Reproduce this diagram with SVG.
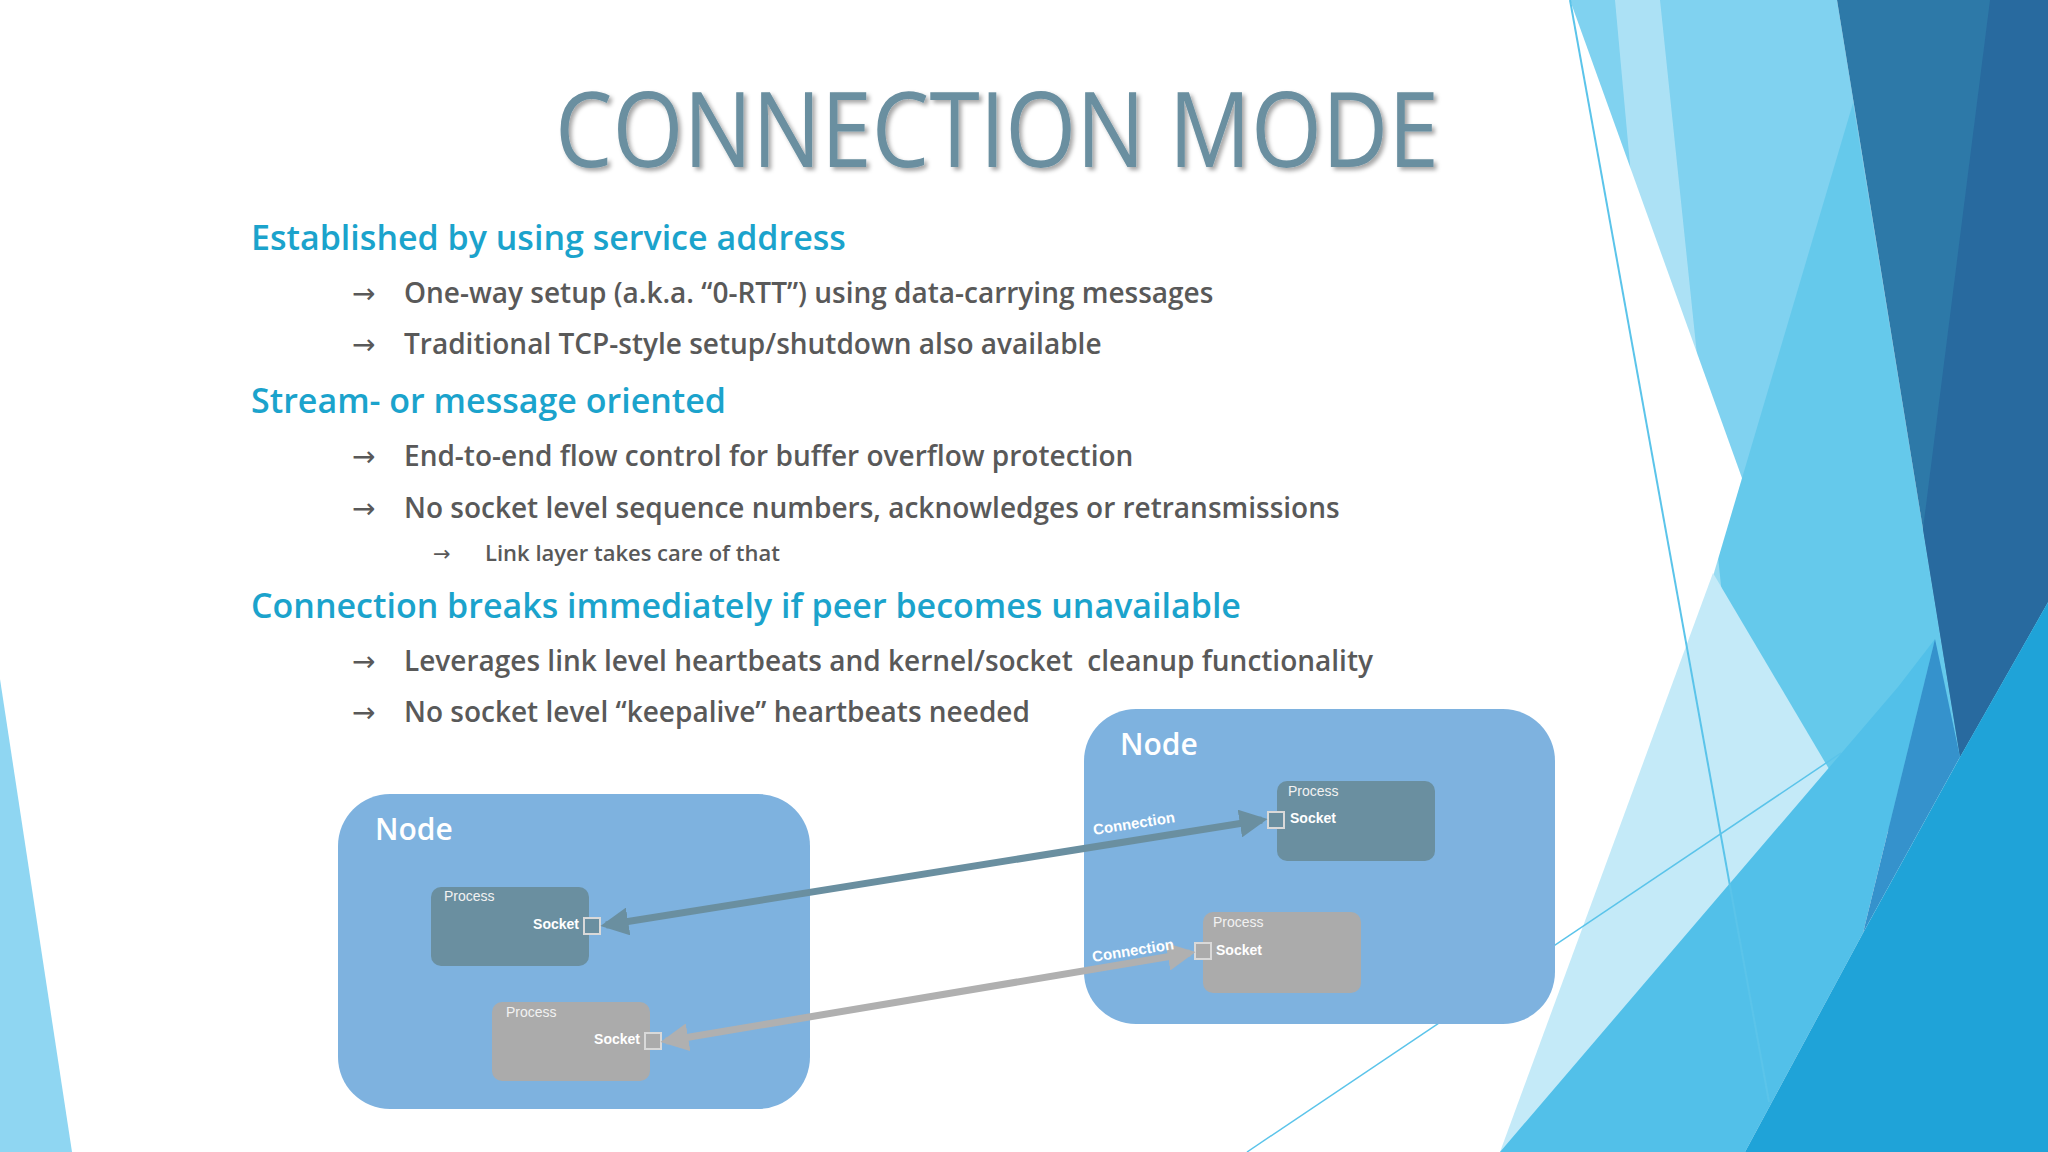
<svg xmlns="http://www.w3.org/2000/svg" width="2048" height="1152" viewBox="0 0 2048 1152">
<defs>
<style>
.h{font-family:"Open Sans","Noto Sans",sans-serif;font-size:34px;font-weight:600;fill:#1ba3cc}
.b{font-family:"Open Sans","Noto Sans",sans-serif;font-size:28px;font-weight:600;fill:#595959}
.s{font-family:"Open Sans","Noto Sans",sans-serif;font-size:22px;font-weight:600;fill:#595959}
.ar{font-family:"DejaVu Sans",sans-serif;fill:#595959}
.node{fill:#7eb2df}
.nl{font-family:"Open Sans","Noto Sans",sans-serif;font-size:30px;font-weight:600;fill:#ffffff}
.pl{font-family:"Liberation Sans",Arial,sans-serif;font-size:14px;fill:#f2f2f2}
.sl{font-family:"Liberation Sans",Arial,sans-serif;font-size:14px;font-weight:bold;fill:#ffffff}
.sq{stroke:#d9d9d9;stroke-width:2}
.cl{font-family:"Liberation Sans",Arial,sans-serif;font-size:15px;font-weight:bold;fill:#ffffff}
</style>
<marker id="mD" viewBox="0 0 10 10" refX="8" refY="5" markerWidth="4" markerHeight="4" orient="auto-start-reverse"><path d="M0,0L10,5L0,10z" fill="#6a8fa0"/></marker>
<marker id="mG" viewBox="0 0 10 10" refX="8" refY="5" markerWidth="4" markerHeight="4" orient="auto-start-reverse"><path d="M0,0L10,5L0,10z" fill="#b0b0b0"/></marker>
<filter id="sh"><feDropShadow dx="3" dy="3" stdDeviation="2" flood-color="#000" flood-opacity="0.35"/></filter>
</defs>
<rect width="2048" height="1152" fill="#ffffff"/>
<g id="decor">
<polygon points="0,679 72,1152 0,1152" fill="#8fd6f2"/>
<polygon points="1570,0 1837,0 1960,757 1874,845" fill="#80d2f0"/>
<polygon points="1853,103 1566,1073 1874,845 1960,757" fill="#65c9eb"/>
<polygon points="1615,0 1660,0 1780,1152 1720,1152" fill="#ffffff" opacity="0.35"/>
<polygon points="1713,573 1500,1152 1640,1152 1874,845" fill="#c4eaf8"/>
<polygon points="1837,0 2048,0 2048,602 1960,757" fill="#2d79a8"/>
<polygon points="1990,0 2048,0 2048,602 1960,757 1923,529" fill="#286a9f"/>
<polygon points="1500,1152 1898,687 1935,639 1863,933 1745,1152" fill="#52c0e9"/>
<polygon points="1935,639 1960,757 1863,933" fill="#3592cc"/>
<polygon points="1745,1152 1863,933 1960,757 2048,602 2048,1152" fill="#1fa3d8"/>
<line x1="1570" y1="0" x2="1769" y2="1102" stroke="#5bc4ea" stroke-width="2"/>
<line x1="1247" y1="1152" x2="1841" y2="753" stroke="#5bc4ea" stroke-width="1.5"/>
</g>
<text x="555" y="167" font-family="Open Sans,Noto Sans,sans-serif" font-size="104" fill="#6a8fa0" filter="url(#sh)" textLength="884" lengthAdjust="spacingAndGlyphs">CONNECTION MODE</text>
<g id="text">
<text class="h" x="251" y="250">Established by using service address</text>
<text class="ar" x="352" y="303" font-size="28">→</text><text class="b" x="404" y="303">One-way setup (a.k.a. “0-RTT”) using data-carrying messages</text>
<text class="ar" x="352" y="354" font-size="28">→</text><text class="b" x="404" y="354">Traditional TCP-style setup/shutdown also available</text>
<text class="h" x="251" y="413">Stream- or message oriented</text>
<text class="ar" x="352" y="466" font-size="28">→</text><text class="b" x="404" y="466">End-to-end flow control for buffer overflow protection</text>
<text class="ar" x="352" y="518" font-size="28">→</text><text class="b" x="404" y="518">No socket level sequence numbers, acknowledges or retransmissions</text>
<text class="ar" x="433" y="561" font-size="21">→</text><text class="s" x="485" y="561">Link layer takes care of that</text>
<text class="h" x="251" y="618">Connection breaks immediately if peer becomes unavailable</text>
<text class="ar" x="352" y="671" font-size="28">→</text><text class="b" x="404" y="671" xml:space="preserve">Leverages link level heartbeats and kernel/socket  cleanup functionality</text>
<text class="ar" x="352" y="722" font-size="28">→</text><text class="b" x="404" y="722">No socket level “keepalive” heartbeats needed</text>
</g>
<g id="nodeLeft">
<rect class="node" x="338" y="794" width="472" height="315" rx="52"/>
<text class="nl" x="375" y="840">Node</text>
</g>
<g id="procLeftTop">
<rect x="431" y="887" width="158" height="79" rx="10" fill="#6a8fa0"/>
<text class="pl" x="444" y="901">Process</text>
<text class="sl" x="579" y="929" text-anchor="end">Socket</text>
<rect class="sq" x="584" y="918" width="16" height="16" fill="#6a8fa0"/>
</g>
<g id="procLeftBottom">
<rect x="492" y="1002" width="158" height="79" rx="10" fill="#ababab"/>
<text class="pl" x="506" y="1017">Process</text>
<text class="sl" x="640" y="1044" text-anchor="end">Socket</text>
<rect class="sq" x="645" y="1033" width="16" height="16" fill="#ababab"/>
</g>
<g id="nodeRight">
<rect class="node" x="1084" y="709" width="471" height="315" rx="52"/>
<text class="nl" x="1120" y="755">Node</text>
</g>
<g id="procRightTop">
<rect x="1277" y="781" width="158" height="80" rx="10" fill="#6a8fa0"/>
<text class="pl" x="1288" y="796">Process</text>
<text class="sl" x="1290" y="823">Socket</text>
<rect class="sq" x="1268" y="812" width="16" height="16" fill="#6a8fa0"/>
</g>
<g id="procRightBottom">
<rect x="1203" y="912" width="158" height="81" rx="10" fill="#ababab"/>
<text class="pl" x="1213" y="927">Process</text>
<text class="sl" x="1216" y="955">Socket</text>
<rect class="sq" x="1195" y="943" width="16" height="16" fill="#ababab"/>
</g>
<g id="connectors">
<line x1="606" y1="925" x2="1262" y2="820" stroke="#6a8fa0" stroke-width="7" marker-start="url(#mD)" marker-end="url(#mD)"/>
<line x1="666" y1="1041" x2="1190" y2="953" stroke="#b0b0b0" stroke-width="7" marker-start="url(#mG)" marker-end="url(#mG)"/>
<text class="cl" x="1094" y="835" transform="rotate(-9 1094 835)">Connection</text>
<text class="cl" x="1093" y="962" transform="rotate(-9 1093 962)">Connection</text>
</g>
</svg>
